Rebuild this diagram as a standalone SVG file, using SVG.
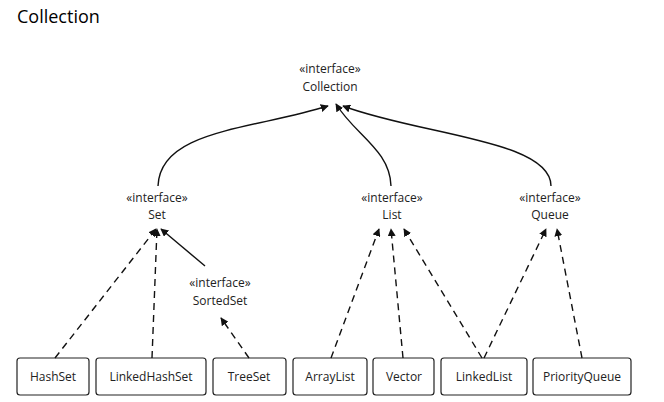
<svg xmlns="http://www.w3.org/2000/svg" width="664" height="402" viewBox="0 0 664 402">
<style>
text{font-family:"Open Sans","Noto Sans",sans-serif;fill:#222;text-anchor:middle;font-size:12px}
.t{font-size:18px;text-anchor:start;fill:#000}
rect{fill:#fff;stroke:#222;stroke-width:1.2}
.c path{fill:none;stroke:#111;stroke-width:1.4;marker-end:url(#a)}
.c .d{stroke-dasharray:7 5}
</style>
<defs><marker id="a" viewBox="0 0 10 10" refX="9" refY="5" markerWidth="8" markerHeight="8" orient="auto" markerUnits="userSpaceOnUse"><path d="M0,0L10,5L0,10z" fill="#111"/></marker></defs>
<rect x="0" y="0" width="664" height="402" style="stroke:none"/>
<text class="t" x="17" y="23">Collection</text>
<g id="collection"><text x="330" y="73">«interface»</text><text x="330" y="91">Collection</text></g>
<g id="set"><text x="157" y="202">«interface»</text><text x="157" y="219">Set</text></g>
<g id="list"><text x="392" y="202">«interface»</text><text x="392" y="219">List</text></g>
<g id="queue"><text x="550" y="202">«interface»</text><text x="550" y="219">Queue</text></g>
<g id="sortedset"><text x="220" y="287">«interface»</text><text x="220" y="305">SortedSet</text></g>
<g id="hashset"><rect x="17" y="358" width="72" height="37" rx="3"/><text x="53" y="381">HashSet</text></g>
<g id="linkedhashset"><rect x="96" y="358" width="110" height="37" rx="3"/><text x="151" y="381">LinkedHashSet</text></g>
<g id="treeset"><rect x="213" y="358" width="73" height="37" rx="3"/><text x="249" y="381">TreeSet</text></g>
<g id="arraylist"><rect x="293" y="358" width="74" height="37" rx="3"/><text x="330" y="381">ArrayList</text></g>
<g id="vector"><rect x="373" y="358" width="61" height="37" rx="3"/><text x="404" y="381">Vector</text></g>
<g id="linkedlist"><rect x="441" y="358" width="86" height="37" rx="3"/><text x="484" y="381">LinkedList</text></g>
<g id="priorityqueue"><rect x="533" y="358" width="98" height="37" rx="3"/><text x="582" y="381">PriorityQueue</text></g>
<g class="c">
<path d="M158,186C160,130 250,130 328,106"/>
<path d="M391,186C390,150 355,135 336,104"/>
<path d="M551,186C551,140 420,135 343,106"/>
<path class="d" d="M55,358L156,229"/>
<path class="d" d="M152,358L157,229"/>
<path d="M205,266L161,229"/>
<path class="d" d="M249,358L221,318"/>
<path class="d" d="M331,358L379,229"/>
<path class="d" d="M403,358L391,229"/>
<path class="d" d="M482,358L404,229"/>
<path class="d" d="M484,358L546,229"/>
<path class="d" d="M582,358L557,229"/>
</g>
</svg>
